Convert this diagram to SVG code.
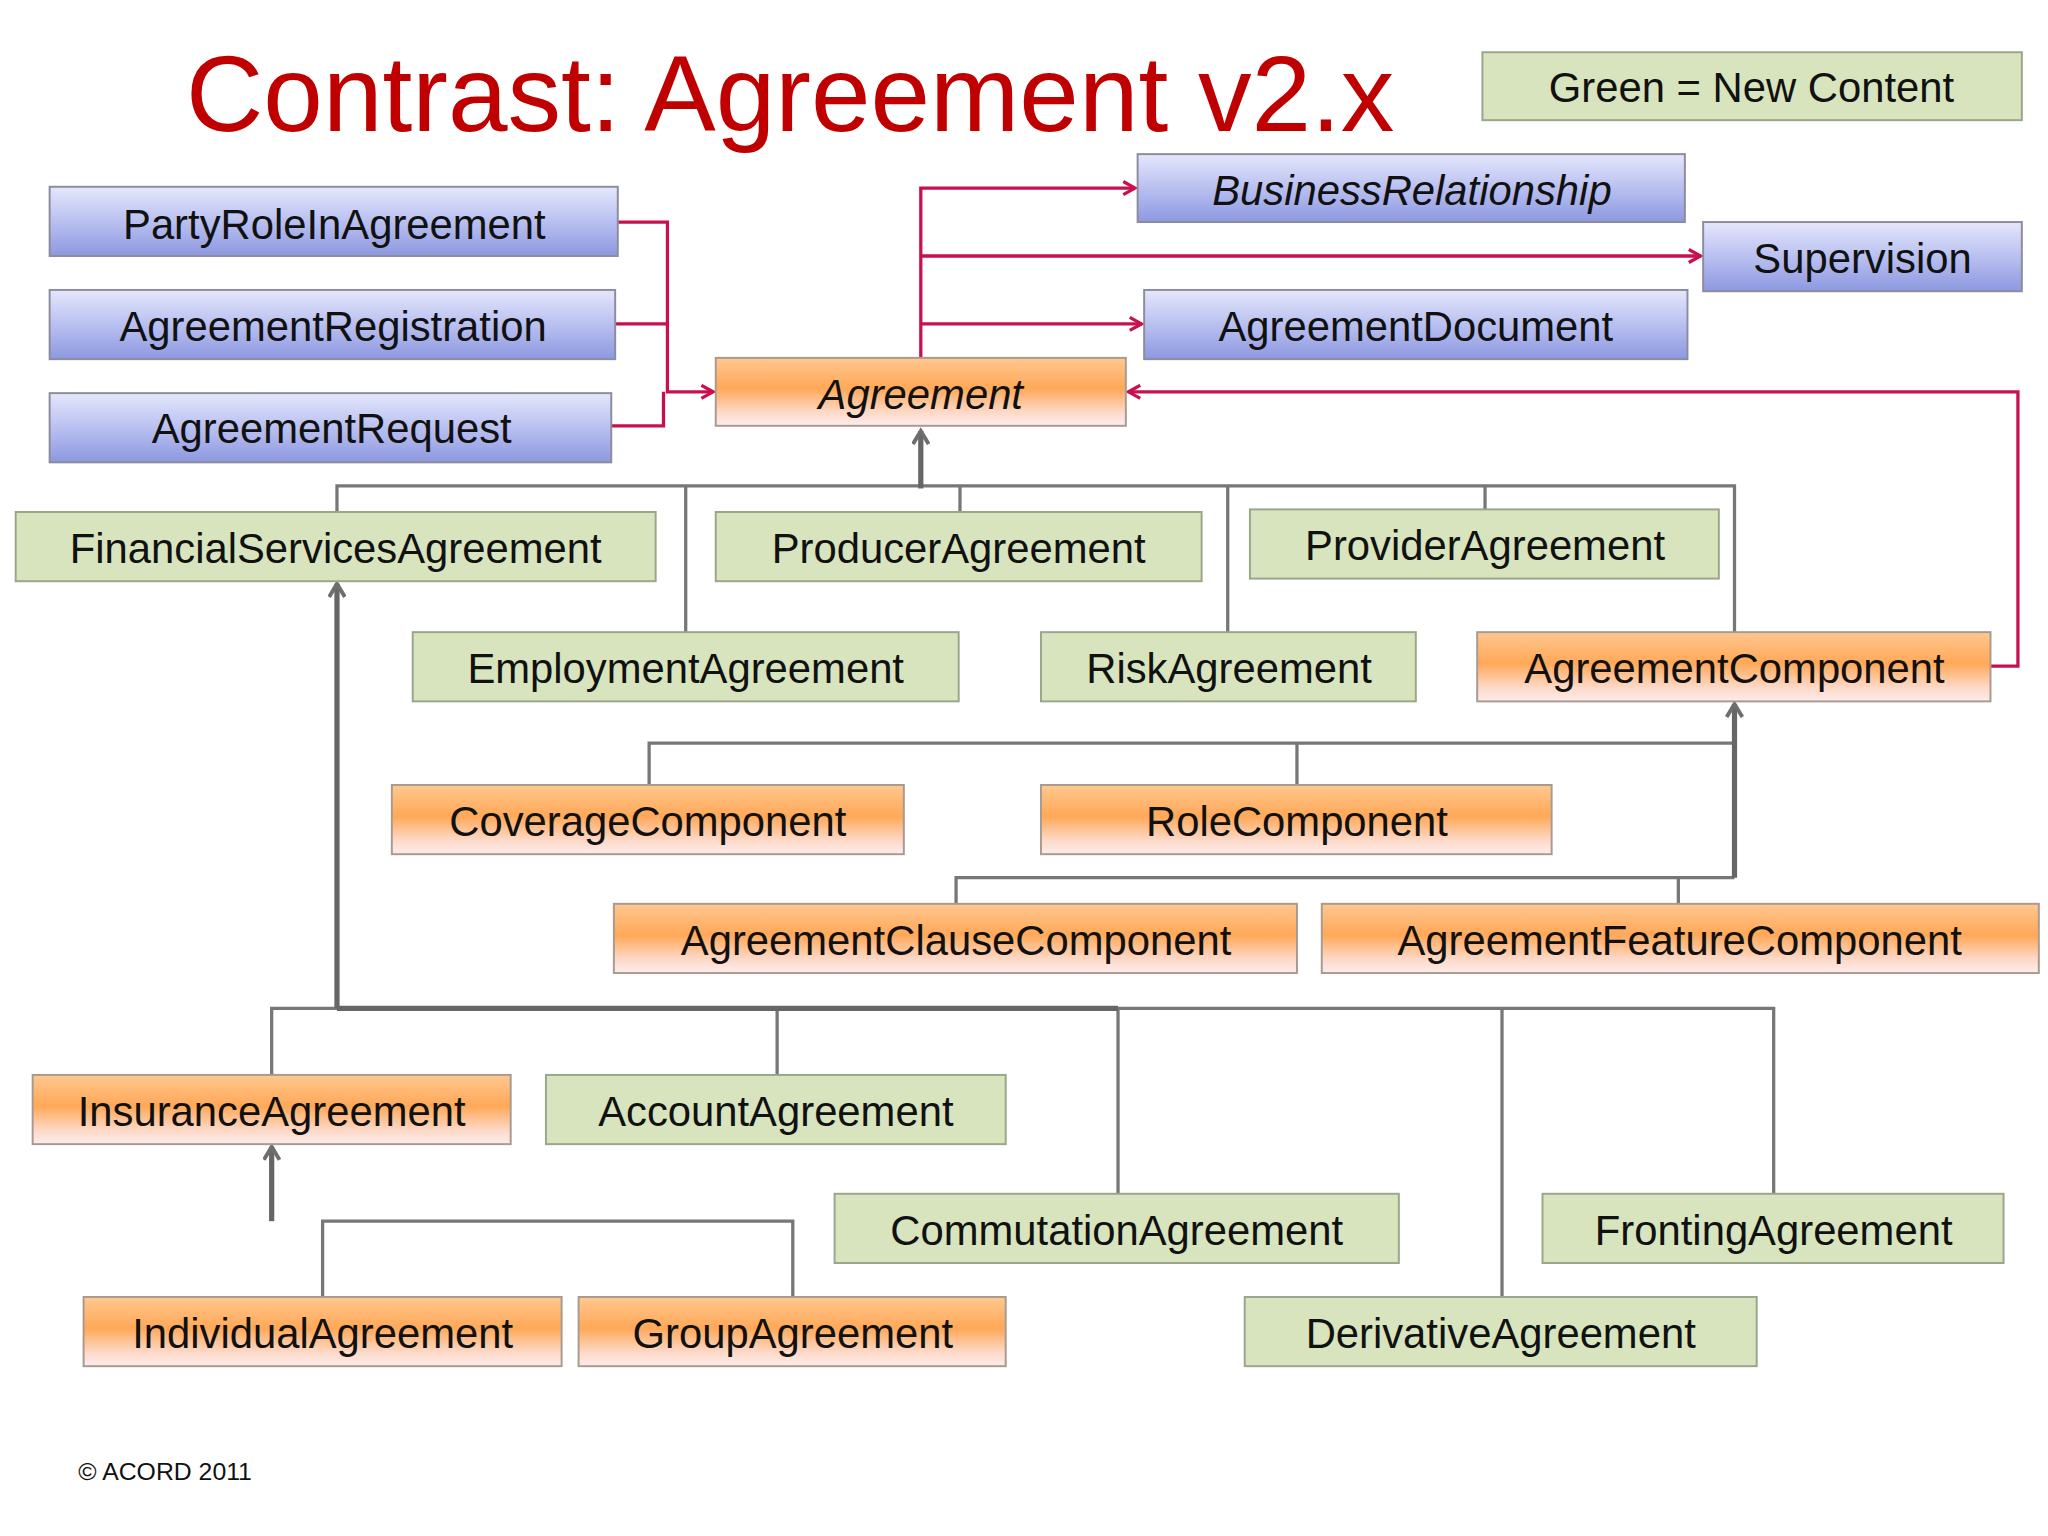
<svg xmlns="http://www.w3.org/2000/svg" width="2048" height="1536" viewBox="0 0 2048 1536">
<defs>
<linearGradient id="gb" x1="0" y1="0" x2="0" y2="1"><stop offset="0" stop-color="#e4e7fb"/><stop offset="0.5" stop-color="#b9c0f0"/><stop offset="1" stop-color="#8d98e0"/></linearGradient>
<linearGradient id="go" x1="0" y1="0" x2="0" y2="1"><stop offset="0" stop-color="#ffc890"/><stop offset="0.45" stop-color="#ffa858"/><stop offset="0.8" stop-color="#fdd9c8"/><stop offset="1" stop-color="#fdeceb"/></linearGradient>
<marker id="ar" markerWidth="12" markerHeight="12" refX="10" refY="6" orient="auto" markerUnits="userSpaceOnUse"><path d="M1,1 L10,6 L1,11" fill="none" stroke="#c8104f" stroke-width="2.5"/></marker>
<marker id="ag" markerWidth="14" markerHeight="14" refX="11" refY="7" orient="auto" markerUnits="userSpaceOnUse"><path d="M1,1 L11,7 L1,13" fill="none" stroke="#6e6e6e" stroke-width="3"/></marker>
</defs>
<style>
.b rect{fill:url(#gb);stroke:#8c8c9c;stroke-width:1.5}
.o rect{fill:url(#go);stroke:#a89a90;stroke-width:1.5}
.g rect{fill:#d7e4bd;stroke:#9aa58a;stroke-width:1.5}
text{font-family:"Liberation Sans",Arial,sans-serif;font-size:32px;fill:#111;text-anchor:middle}
.it{font-style:italic}
.r{fill:none;stroke:#c8104f;stroke-width:2.5}
.k{fill:none;stroke:#777;stroke-width:2.5}
.kt{fill:none;stroke:#666;stroke-width:4}
</style>
<rect width="2048" height="1536" fill="#fff"/>
<g transform="scale(1.3061)">
<text x="605" y="100" style="font-size:82px;fill:#c00000">Contrast: Agreement v2.x</text>
<text x="60" y="1133" style="font-size:19px;text-anchor:start">© ACORD 2011</text>
<g id="connectors">
<path class="r" d="M473,170 H511 V300 H546" marker-end="url(#ar)"/>
<path class="r" d="M471,248 H511"/>
<path class="r" d="M468,326 H508 V300"/>
<path class="r" d="M705,274 V144 H869" marker-end="url(#ar)"/>
<path class="r" d="M705,196 H1302" marker-end="url(#ar)"/>
<path class="r" d="M705,248 H874" marker-end="url(#ar)"/>
<path class="r" d="M1524,510 H1545 V300 H864" marker-end="url(#ar)"/>
<path class="k" d="M258,392 V372 H1328 V484 M525,372 V484 M735,372 V392 M940,372 V484 M1137,372 V390"/>
<path class="kt" d="M705,374 V330" marker-end="url(#ag)"/>
<path class="k" d="M497,601 V569 H1328 M993,569 V601 M732,692 V672 H1328 M1285,672 V692"/>
<path class="kt" d="M1328,672 V539" marker-end="url(#ag)"/>
<path class="k" d="M208,823 V772 H1358 V914 M595,772 V823 M856,772 V914 M1150,772 V993"/>
<path class="kt" d="M258,772 V447" marker-end="url(#ag)"/>
<path class="kt" d="M258,772 H856"/>
<path class="k" d="M247,993 V935 H607 V993"/>
<path class="kt" d="M208,935 V878" marker-end="url(#ag)"/>
</g>
<g id="legend" class="g"><rect x="1135" y="40" width="413" height="52"/><text x="1341" y="78">Green = New Content</text></g>
<g id="PartyRoleInAgreement" class="b"><rect x="38" y="143" width="435" height="53"/><text x="256" y="183">PartyRoleInAgreement</text></g>
<g id="AgreementRegistration" class="b"><rect x="38" y="222" width="433" height="53"/><text x="255" y="261">AgreementRegistration</text></g>
<g id="AgreementRequest" class="b"><rect x="38" y="301" width="430" height="53"/><text x="254" y="339">AgreementRequest</text></g>
<g id="BusinessRelationship" class="b"><rect x="871" y="118" width="419" height="52"/><text class="it" x="1081" y="157">BusinessRelationship</text></g>
<g id="Supervision" class="b"><rect x="1304" y="170" width="244" height="53"/><text x="1426" y="209">Supervision</text></g>
<g id="AgreementDocument" class="b"><rect x="876" y="222" width="416" height="53"/><text x="1084" y="261">AgreementDocument</text></g>
<g id="Agreement" class="o"><rect x="548" y="274" width="314" height="52"/><text class="it" x="705" y="313">Agreement</text></g>
<g id="FinancialServicesAgreement" class="g"><rect x="12" y="392" width="490" height="53"/><text x="257" y="431">FinancialServicesAgreement</text></g>
<g id="ProducerAgreement" class="g"><rect x="548" y="392" width="372" height="53"/><text x="734" y="431">ProducerAgreement</text></g>
<g id="ProviderAgreement" class="g"><rect x="957" y="390" width="359" height="53"/><text x="1137" y="429">ProviderAgreement</text></g>
<g id="EmploymentAgreement" class="g"><rect x="316" y="484" width="418" height="53"/><text x="525" y="523">EmploymentAgreement</text></g>
<g id="RiskAgreement" class="g"><rect x="797" y="484" width="287" height="53"/><text x="941" y="523">RiskAgreement</text></g>
<g id="AgreementComponent" class="o"><rect x="1131" y="484" width="393" height="53"/><text x="1328" y="523">AgreementComponent</text></g>
<g id="CoverageComponent" class="o"><rect x="300" y="601" width="392" height="53"/><text x="496" y="640">CoverageComponent</text></g>
<g id="RoleComponent" class="o"><rect x="797" y="601" width="391" height="53"/><text x="993" y="640">RoleComponent</text></g>
<g id="AgreementClauseComponent" class="o"><rect x="470" y="692" width="523" height="53"/><text x="732" y="731">AgreementClauseComponent</text></g>
<g id="AgreementFeatureComponent" class="o"><rect x="1012" y="692" width="549" height="53"/><text x="1286" y="731">AgreementFeatureComponent</text></g>
<g id="InsuranceAgreement" class="o"><rect x="25" y="823" width="366" height="53"/><text x="208" y="862">InsuranceAgreement</text></g>
<g id="AccountAgreement" class="g"><rect x="418" y="823" width="352" height="53"/><text x="594" y="862">AccountAgreement</text></g>
<g id="CommutationAgreement" class="g"><rect x="639" y="914" width="432" height="53"/><text x="855" y="953">CommutationAgreement</text></g>
<g id="FrontingAgreement" class="g"><rect x="1181" y="914" width="353" height="53"/><text x="1358" y="953">FrontingAgreement</text></g>
<g id="IndividualAgreement" class="o"><rect x="64" y="993" width="366" height="53"/><text x="247" y="1032">IndividualAgreement</text></g>
<g id="GroupAgreement" class="o"><rect x="443" y="993" width="327" height="53"/><text x="607" y="1032">GroupAgreement</text></g>
<g id="DerivativeAgreement" class="g"><rect x="953" y="993" width="392" height="53"/><text x="1149" y="1032">DerivativeAgreement</text></g>
</g>
</svg>
